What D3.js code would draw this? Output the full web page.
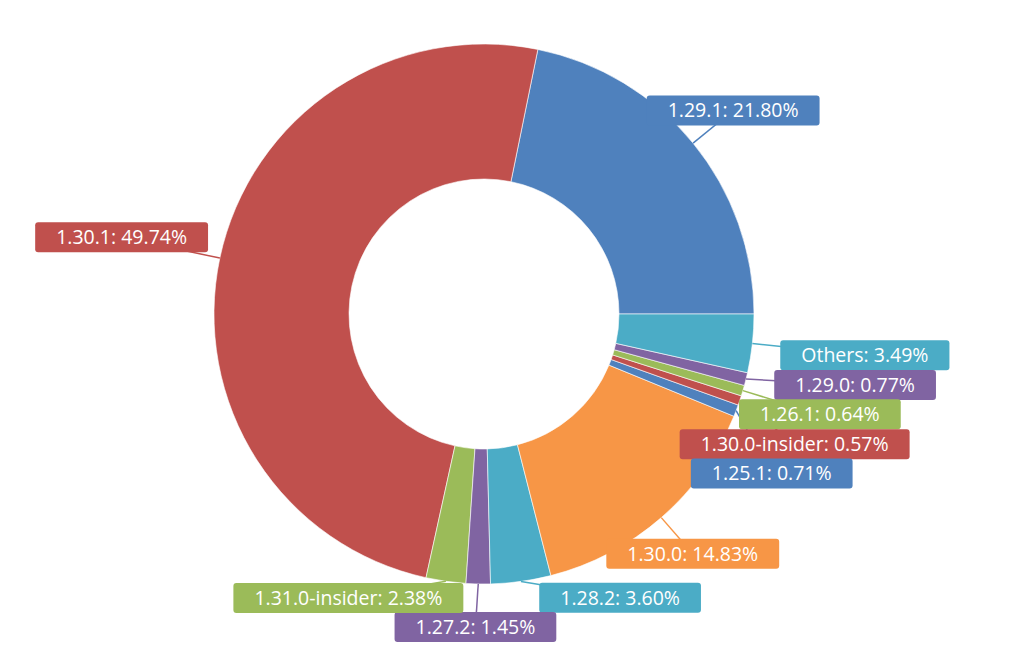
<!DOCTYPE html>
<html>
<head>
<meta charset="utf-8">
<script src="https://cdn.jsdelivr.net/npm/d3@7"></script>
<style>
  body { margin: 0; background: #fff; }
  svg { display: block; }
  text { font-family: "Open Sans", sans-serif; }
</style>
</head>
<body>
<div id="chart"></div>
<script>
// share of users per version, in drawing order (counter-clockwise from 3 o'clock)
const versions = [
  "1.29.1", "1.30.1", "1.31.0-insider", "1.27.2", "1.28.2", "1.30.0",
  "1.25.1", "1.30.0-insider", "1.26.1", "1.29.0", "Others"
];
const shares = [21.80, 49.74, 2.38, 1.45, 3.60, 14.83, 0.71, 0.57, 0.64, 0.77, 3.49];
const palette = ["#4f81bd", "#c0504d", "#9bbb59", "#8064a2", "#4bacc6", "#f79646"];

const data = versions.map((v, i) => ({ version: v, share: shares[i] }));

const width = 1016;
const height = 661;
const cx = 484, cy = 314;
const outer = 270, inner = 135;
const labelRadius = 298;
const fontSize = 19.5, padX = 21, boxH = 30;

const svg = d3
  .select("#chart")
  .append("svg")
  .attr("width", width)
  .attr("height", height);

const g = svg.append("g").attr("transform", `translate(${cx},${cy})`);

const color = d3.scaleOrdinal().domain(versions).range(palette);

const pie = d3
  .pie()
  .sort(null)
  .value((d) => d.share)
  .startAngle(Math.PI / 2)
  .endAngle(Math.PI / 2 - 2 * Math.PI);

const arc = d3.arc().innerRadius(inner).outerRadius(outer);
const arcs = pie(data);

g.selectAll(".slice")
  .data(arcs)
  .enter()
  .append("path")
  .attr("class", "slice")
  .attr("d", arc)
  .attr("fill", (d) => color(d.data.version))
  .attr("stroke", "#fff")
  .attr("stroke-width", 0.6);

// measure label texts
const measure = g.append("text").style("font-size", fontSize + "px");
const labels = arcs.map((d) => {
  const txt = `${d.data.version}: ${d.data.share.toFixed(2)}%`;
  measure.text(txt);
  const w = measure.node().getComputedTextLength() + padX * 2;
  let mid = (d.startAngle + d.endAngle) / 2;
  mid = ((mid % (2 * Math.PI)) + 2 * Math.PI) % (2 * Math.PI);
  return { d, txt, w, h: boxH, mid, a: mid };
});
measure.remove();

function place(l) {
  const s = Math.abs(Math.sin(l.a)), c = Math.abs(Math.cos(l.a));
  const e = Math.min(s > 1e-6 ? l.w / 2 / s : 1e9, c > 1e-6 ? l.h / 2 / c : 1e9);
  const r = labelRadius + e;
  l.x = r * Math.sin(l.a);
  l.y = -r * Math.cos(l.a);
}

function overlap(p, q) {
  const tol = 1;
  return (
    Math.abs(p.x - q.x) < (p.w + q.w) / 2 - tol &&
    Math.abs(p.y - q.y) < (p.h + q.h) / 2 - tol
  );
}

labels.sort((p, q) => p.a - q.a);
labels.forEach(place);
for (let it = 0; it < 2000; it++) {
  let moved = false;
  for (let i = 0; i < labels.length - 1; i++) {
    const p = labels[i], q = labels[i + 1];
    if (overlap(p, q)) {
      // right-hand stack spreads a little more downwards
      const side = q.a < 2.6;
      p.a -= side ? 0.0015 : 0.002;
      q.a += side ? 0.0025 : 0.002;
      place(p);
      place(q);
      moved = true;
    }
  }
  if (!moved) break;
}

// leader lines
g.selectAll(".leader")
  .data(labels)
  .enter()
  .append("line")
  .attr("class", "leader")
  .attr("x1", (l) => outer * Math.sin(l.mid))
  .attr("y1", (l) => -outer * Math.cos(l.mid))
  .attr("x2", (l) => l.x)
  .attr("y2", (l) => l.y)
  .attr("stroke", (l) => color(l.d.data.version))
  .attr("stroke-width", 1.5);

const lab = g
  .selectAll(".label")
  .data(labels)
  .enter()
  .append("g")
  .attr("class", "label")
  .attr("transform", (l) => `translate(${l.x},${l.y})`);

lab
  .append("rect")
  .attr("x", (l) => -l.w / 2)
  .attr("y", (l) => -l.h / 2)
  .attr("width", (l) => l.w)
  .attr("height", (l) => l.h)
  .attr("rx", 3)
  .attr("fill", (l) => color(l.d.data.version));

lab
  .append("text")
  .attr("text-anchor", "middle")
  .attr("dy", "0.36em")
  .style("font-size", fontSize + "px")
  .style("fill", "#fff")
  .text((l) => l.txt);
</script>
</body>
</html>
